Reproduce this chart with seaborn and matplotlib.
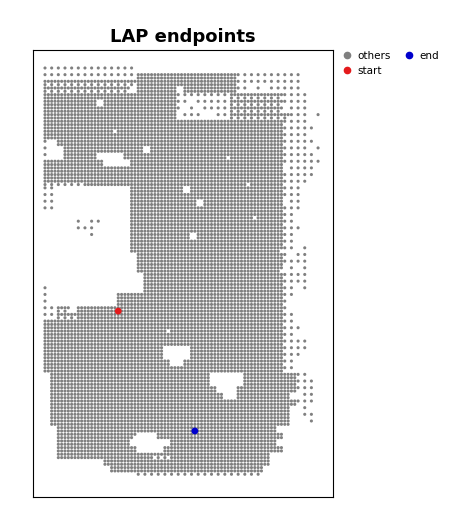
import numpy as np
import pandas as pd
import matplotlib
matplotlib.use('Agg')
import matplotlib.pyplot as plt
import seaborn as sns

# Coarse tissue mask: each character covers a 2x2 block of spots.
# '#' = all spots present, '+' = three of four, '.' = one of four, ' ' = none
MASK = [
    "..............",
    "..............###############..........",
    "++++++++++++++###############..........",
    "+++++++++++++ ###### ########.. . .....",
    "####################........++++++++....",
    "######## ###########.. .....++++++++....",
    "####################. . ....++++++++ ...",
    "#################### ...  ..+++++++++... .",
    "####################################....",
    "##########+#########################.....",
    "####################################....",
    ". ##################################.....",
    ".  ############ ####################.... .",
    ".  #####    ###############+########.....",
    "#########    #######################......",
    "#################################### ....",
    "####################################.....",
    "++++++########################+#####....",
    "..           ######## ##############...",
    "..           #######################...",
    "..           ########## ############ ..",
    "..           #######################...",
    "             ##################+####..",
    "     . ..    #######################.. ",
    "     ...     #######################...",
    "       .     ######### #############..",
    "             #######################..",
    "             ######################+.. .",
    "              ######################. ..",
    "              ######################....",
    "              #####################+ . .",
    "               #####################....",
    "               #####################....",
    ".              #####################.. .",
    ".          #########################..",
    ".          #########################. ",
    "..++ ###############################.",
    "..+++###############################..",
    "####################################..",
    "##################+#################...",
    "####################################.. ",
    "####################################....",
    "##################    ##############....",
    "##################    ##############...",
    "###################  ###############..",
    "####################################..",
    " ########################     ########..",
    " ########################     ########...",
    " #########################   #########...",
    " ##########################  ########  ..",
    " #####################################...",
    " ####################################  . ",
    " ####################################  ..",
    " ####################################   .",
    "  #################################",
    "  ###########+   ###################",
    "  ###########      ################",
    "  ############    ##################",
    "  ##############+++###############",
    "         #########################",
    "          #######################",
    "              ...................",
]

# spot-grid indices (column, row) of the two highlighted spots
START_SPOT = (22, 73)
END_SPOT = (45, 109)

SUB = {'#': [(0, 0), (1, 0), (0, 1), (1, 1)],
       '+': [(0, 0), (1, 0), (0, 1)],
       '.': [(0, 0)],
       ' ': []}

STEP = 3.33
X0, Y0 = 45, 68

cols, rows = [], []
for r, line in enumerate(MASK):
    for c, ch in enumerate(line):
        for i, j in SUB.get(ch, []):
            cols.append(2 * c + i)
            rows.append(2 * r + j)

df = pd.DataFrame({'col': cols, 'row': rows, 'group': 'others'})
df = pd.concat([df, pd.DataFrame({'col': [START_SPOT[0], END_SPOT[0]],
                                  'row': [START_SPOT[1], END_SPOT[1]],
                                  'group': ['start', 'end']})], ignore_index=True)
df['x'] = X0 + STEP * df['col']
df['y'] = Y0 + STEP * df['row']

fig = plt.figure(figsize=(4.74, 5.30), dpi=100)
ax = fig.add_axes([33 / 474, 33 / 530, 300 / 474, 447 / 530])

palette = {'others': '#808080', 'start': '#e41a1c', 'end': '#0000cc'}
others = df[df['group'] == 'others']
special = df[df['group'] != 'others']
sns.scatterplot(data=others, x='x', y='y', hue='group', palette=palette,
                s=5, linewidth=0, ax=ax, legend=False)
sns.scatterplot(data=special, x='x', y='y', hue='group', palette=palette,
                hue_order=['start', 'end'], s=24, linewidth=0, ax=ax, legend=False)

ax.set_xlim(33, 333)
ax.set_ylim(497, 50)
ax.set_xticks([])
ax.set_yticks([])
ax.set_xlabel('')
ax.set_ylabel('')
ax.set_title('LAP endpoints', fontsize=13, fontweight='bold')

labels = ['others', 'start', 'end']
handles = [plt.Line2D([], [], marker='o', ls='', color=palette[l], markersize=4.5)
           for l in labels]
ax.legend(handles, labels, ncol=2, frameon=False,
          loc='upper left', bbox_to_anchor=(1.0, 1.015), fontsize=7.5,
          handletextpad=0.4, columnspacing=1.2, borderaxespad=0.3,
          handlelength=1.2)

fig.savefig('out.png', dpi=100)
